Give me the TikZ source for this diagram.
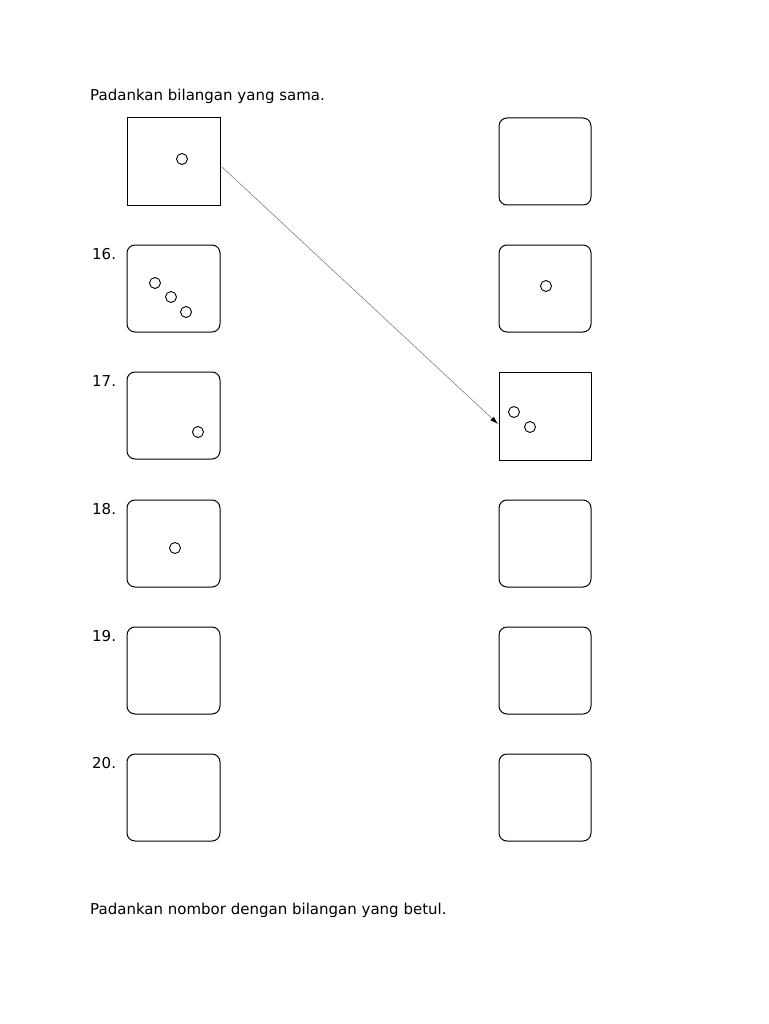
\documentclass[tikz,border=0pt]{standalone}
\usepackage{fontspec}
\setmainfont{DejaVu Sans}
\usetikzlibrary{arrows.meta}
\begin{document}
\begin{tikzpicture}[x=1pt,y=-1pt,
  bx/.style={draw,line width=1pt,rounded corners=8pt},
  sq/.style={draw,line width=1pt},
  dot/.style={draw,line width=0.9pt},
  lbl/.style={anchor=base west,inner sep=0pt,font=\fontsize{15}{18}\selectfont}]
\useasboundingbox (0,0) rectangle (768,1024);
\node[lbl] (t1) at (90,101) {Padankan bilangan yang sama.};
\node[lbl] (t2) at (90,914) {Padankan nombor dengan bilangan yang betul.};
\foreach \y/\n in {245/16,372/17,500/18,627/19,754/20}{
  \node[lbl] (n\n) at (92,\y+14) {\n.};
}
\draw[sq] (127,118) rectangle (220,206);
\foreach \y in {245,372,500,627,754}{\draw[bx] (127,\y) rectangle (220,\y+87);}
\foreach \y in {118,245,500,627,754}{\draw[bx] (499,\y) rectangle (591,\y+87);}
\draw[sq] (499,372) rectangle (591,460);
\foreach \p in {(182,159),(155,283),(171,297),(186,312),(198,432),(175,548),(546,286),(514,412),(530,427)}
  \draw[dot] \p circle (5.5);
\coordinate (a) at (222,167);
\coordinate (b) at (498,424);
\draw[gray,line width=0.6pt,-{Latex[length=8pt,width=5pt,black]}] (a) -- (b);
\end{tikzpicture}
\end{document}
